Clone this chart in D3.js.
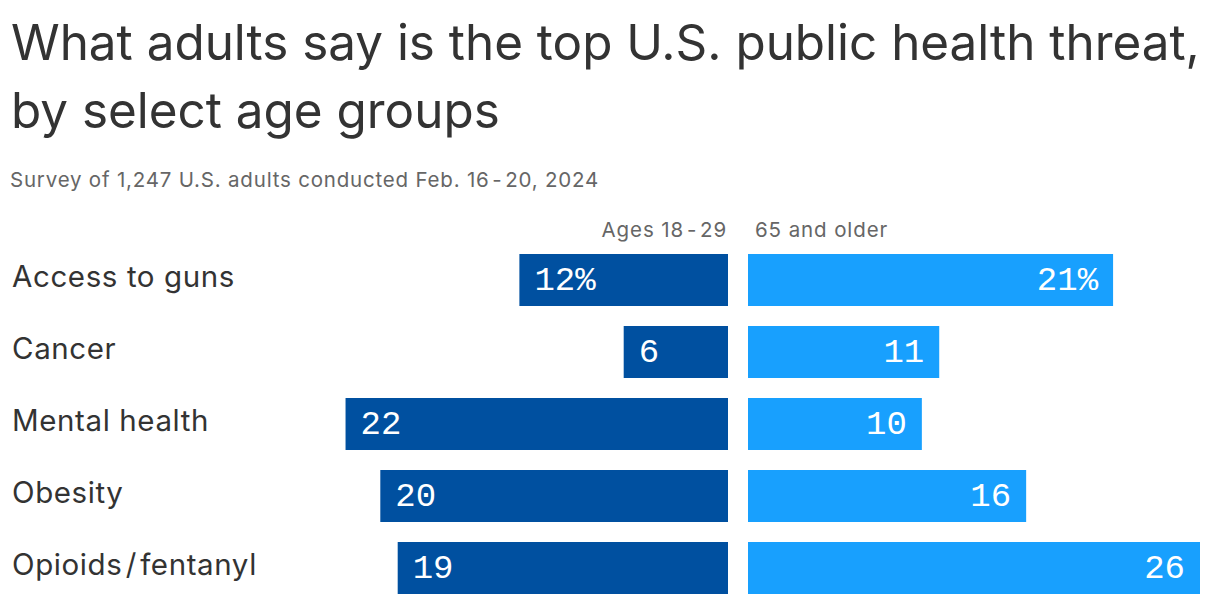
<!DOCTYPE html>
<html>
<head>
<meta charset="utf-8">
<script src="https://cdn.jsdelivr.net/npm/d3@7"></script>
<style>
  html, body { margin: 0; padding: 0; background: #fff; }
  svg { display: block; }
</style>
</head>
<body>
<svg id="chart" width="1220" height="604"></svg>
<script>
const categories = ["Access to guns", "Cancer", "Mental health", "Obesity", "Opioids\u200a/\u200afentanyl"];
const ages18to29 = [12, 6, 22, 20, 19];
const ages65plus = [21, 11, 10, 16, 26];
const seriesNames = ["Ages 18\u200a-\u200a29", "65 and older"];
const titleLines = ["What adults say is the top U.S. public health threat,", "by select age groups"];
const subtitle = "Survey of 1,247 U.S. adults conducted Feb. 16\u200a-\u200a20, 2024";

const svg = d3.select("#chart");
const sans = "Inter, 'Noto Sans', sans-serif";
const mono = "'Liberation Mono', 'DejaVu Sans Mono', monospace";

// Title
svg.selectAll("text.title").data(titleLines).join("text")
  .attr("class", "title")
  .attr("x", 11)
  .attr("y", (d, i) => 60 + i * 68)
  .attr("font-family", sans)
  .attr("font-size", 49.4)
  .attr("letter-spacing", 0)
  .attr("fill", "#333333")
  .text(d => d);

svg.append("text")
  .attr("x", 10).attr("y", 187)
  .attr("font-family", sans)
  .attr("font-size", 20.5)
  .attr("letter-spacing", 0.8)
  .attr("fill", "#666666")
  .text(subtitle);

const maxV = 26;
const leftEnd = 728, rightStart = 748, span = 452;
const xL = d3.scaleLinear().domain([0, maxV]).range([leftEnd, leftEnd - span]);
const xR = d3.scaleLinear().domain([0, maxV]).range([rightStart, rightStart + span]);
// Band: step 72, bar height 52
const yb = d3.scaleBand().domain(categories).range([254, 254 + 72 * 5 - 20]).paddingInner(20 / 72);

// Series headers
svg.append("text")
  .attr("x", leftEnd - 1).attr("y", 237)
  .attr("text-anchor", "end")
  .attr("font-family", sans).attr("font-size", 20.5).attr("letter-spacing", 0.9)
  .attr("fill", "#666666")
  .text(seriesNames[0]);
svg.append("text")
  .attr("x", rightStart + 7).attr("y", 237)
  .attr("font-family", sans).attr("font-size", 20.5).attr("letter-spacing", 0.9)
  .attr("fill", "#666666")
  .text(seriesNames[1]);

// Category labels
svg.selectAll("text.cat").data(categories).join("text")
  .attr("class", "cat")
  .attr("x", 12)
  .attr("y", d => yb(d) + yb.bandwidth() / 2 + 6.5)
  .attr("font-family", sans)
  .attr("font-size", 29.5)
  .attr("letter-spacing", 0.6)
  .attr("fill", "#333333")
  .text(d => d);

const rows = categories.map((c, i) => ({ c, a: ages18to29[i], b: ages65plus[i], i }));

svg.selectAll("rect.left").data(rows).join("rect")
  .attr("class", "left")
  .attr("x", d => xL(d.a))
  .attr("y", d => yb(d.c))
  .attr("width", d => xL(0) - xL(d.a))
  .attr("height", yb.bandwidth())
  .attr("fill", "#0050a0");

svg.selectAll("rect.right").data(rows).join("rect")
  .attr("class", "right")
  .attr("x", xR(0))
  .attr("y", d => yb(d.c))
  .attr("width", d => xR(d.b) - xR(0))
  .attr("height", yb.bandwidth())
  .attr("fill", "#18a0fe");

svg.selectAll("text.lv").data(rows).join("text")
  .attr("class", "lv")
  .attr("x", d => xL(d.a) + 15)
  .attr("y", d => yb(d.c) + yb.bandwidth() / 2 + 10)
  .attr("font-family", mono)
  .attr("font-size", 34)
  .attr("fill", "#ffffff")
  .text(d => d.i === 0 ? d.a + "%" : d.a);

svg.selectAll("text.rv").data(rows).join("text")
  .attr("class", "rv")
  .attr("x", d => xR(d.b) - 15)
  .attr("y", d => yb(d.c) + yb.bandwidth() / 2 + 10)
  .attr("text-anchor", "end")
  .attr("font-family", mono)
  .attr("font-size", 34)
  .attr("fill", "#ffffff")
  .text(d => d.i === 0 ? d.b + "%" : d.b);
</script>
</body>
</html>
